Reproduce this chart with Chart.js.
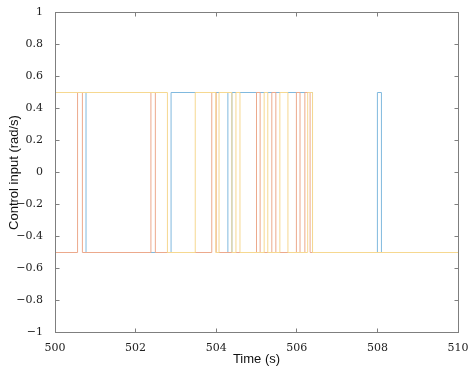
<!DOCTYPE html>
<html>
<head>
<meta charset="utf-8">
<script src="https://cdn.jsdelivr.net/npm/chart.js@4"></script>
<style>
  html, body { margin: 0; padding: 0; background: #fff; }
  #wrap { width: 474px; height: 376px; }
</style>
</head>
<body>
<div id="wrap"><canvas id="ctrlChart" width="474" height="376"></canvas></div>
<script>
// switching times (s) and control values (rad/s), zero-order hold
const blueT = [500, 500.77, 502.88, 504.29, 504.39, 506.39, 508.00, 508.10, 510];
const blueU = [0.5, -0.5, 0.5, -0.5, 0.5, -0.5, 0.5, -0.5, -0.5];

const redT = [500, 500.56, 500.68, 502.38, 502.49, 503.89, 504.00, 505.00, 505.09, 505.38, 505.48, 505.99, 506.08, 506.20, 506.33, 510];
const redU = [-0.5, 0.5, -0.5, 0.5, -0.5, 0.5, -0.5, 0.5, -0.5, 0.5, -0.5, 0.5, -0.5, 0.5, -0.5, -0.5];

const yellowT = [500, 502.79, 503.48, 503.99, 504.07, 504.39, 504.49, 504.59, 505.19, 505.28, 505.58, 505.78, 506.27, 506.39, 510];
const yellowU = [0.5, -0.5, 0.5, -0.5, 0.5, -0.5, 0.5, -0.5, 0.5, -0.5, 0.5, -0.5, 0.5, -0.5, -0.5];

const xTicks = [500, 502, 504, 506, 508, 510];
const yTicks = [-1, -0.8, -0.6, -0.4, -0.2, 0, 0.2, 0.4, 0.6, 0.8, 1];

const axisGray = '#7f7f7f';

function pts(t, u) {
    return t.map((x, i) => ({ x: x, y: u[i] }));
}

// caja completa y marcas hacia dentro, estilo MATLAB
const boxPlugin = {
    id: 'boxTicks',
    afterDatasetsDraw(chart) {
        const { ctx, chartArea: a, scales: { x, y } } = chart;
        ctx.save();
        ctx.strokeStyle = axisGray;
        ctx.lineWidth = 1;
        const l = Math.floor(a.left) + 0.5, t = Math.floor(a.top) + 0.5;
        const r = Math.floor(a.right) + 0.5, b = Math.floor(a.bottom) + 0.5;
        ctx.strokeRect(l, t, r - l, b - t);
        ctx.beginPath();
        xTicks.forEach(v => {
            const px = Math.floor(x.getPixelForValue(v)) + 0.5;
            ctx.moveTo(px, b); ctx.lineTo(px, b - 4);
            ctx.moveTo(px, t); ctx.lineTo(px, t + 4);
        });
        yTicks.forEach(v => {
            const py = Math.floor(y.getPixelForValue(v)) + 0.5;
            ctx.moveTo(l, py); ctx.lineTo(l + 4, py);
            ctx.moveTo(r, py); ctx.lineTo(r - 4, py);
        });
        ctx.stroke();
        ctx.restore();
    }
};

const ctx = document.getElementById('ctrlChart').getContext('2d');
const ctrlChart = new Chart(ctx, {
    type: 'line',
    data: {
        datasets: [
            { label: 'u3', data: pts(yellowT, yellowU), borderColor: '#f6d890', order: 1 },
            { label: 'u2', data: pts(redT, redU), borderColor: '#eca98c', order: 2 },
            { label: 'u1', data: pts(blueT, blueU), borderColor: '#80b9de', order: 3 }
        ].map(d => Object.assign(d, { stepped: true, borderWidth: 1, pointRadius: 0, fill: false }))
    },
    options: {
        responsive: false,
        animation: false,
        layout: { padding: { top: 12.5, right: 16, left: 7, bottom: 0 } },
        plugins: { legend: { display: false }, tooltip: { enabled: false } },
        scales: {
            x: {
                type: 'linear',
                min: 500, max: 510,
                afterBuildTicks: s => { s.ticks = xTicks.map(v => ({ value: v })); },
                afterFit: s => { s.height = 43.5; },
                grid: { display: false },
                border: { display: false },
                ticks: {
                    padding: 1,
                    color: '#222',
                    font: { family: 'DejaVu Serif', size: 11 },
                    maxRotation: 0
                },
                title: {
                    display: true, text: 'Time (s)', color: '#111',
                    font: { family: 'Liberation Sans', size: 13 },
                    padding: { top: 0, bottom: 9 }
                }
            },
            y: {
                type: 'linear',
                min: -1, max: 1,
                afterBuildTicks: s => { s.ticks = yTicks.map(v => ({ value: v })); },
                afterFit: s => { s.width = 48; },
                grid: { display: false },
                border: { display: false },
                ticks: {
                    padding: 4,
                    color: '#222',
                    font: { family: 'DejaVu Serif', size: 11 },
                    callback: v => String(Math.round(v * 10) / 10).replace('-', '\u2212')
                },
                title: {
                    display: true, text: 'Control input (rad/s)', color: '#111',
                    font: { family: 'Liberation Sans', size: 13 },
                    padding: { top: 0, bottom: 0 }
                }
            }
        }
    },
    plugins: [boxPlugin]
});
</script>
</body>
</html>
